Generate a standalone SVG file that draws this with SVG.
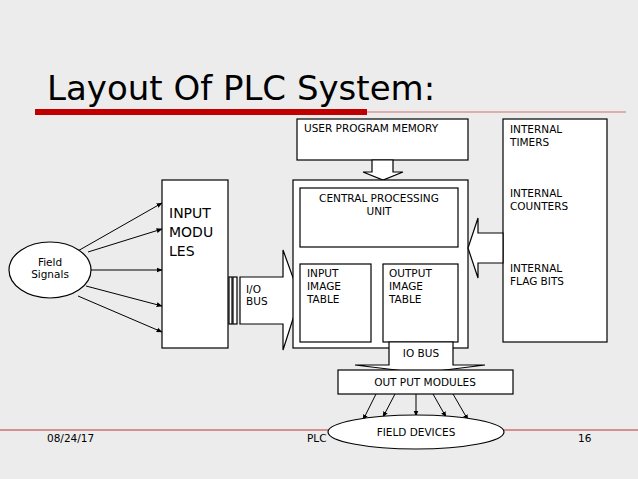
<svg xmlns="http://www.w3.org/2000/svg" width="638" height="479" viewBox="0 0 638 479">
<style>
text{font-family:Verdana,"DejaVu Sans",sans-serif;fill:#000}
.b{fill:#fff;stroke:#000;stroke-width:1.2}
.s{font-size:10.5px}
.l{stroke:#000;stroke-width:1;fill:none}
</style>
<defs><marker id="a" viewBox="0 0 10 10" refX="9" refY="5" markerWidth="6" markerHeight="6" orient="auto"><path d="M0,1 L10,5 L0,9z" fill="#000"/></marker></defs>
<rect width="638" height="479" fill="#ececec"/>
<text x="47" y="100" style="font-size:34px;font-family:'DejaVu Sans',Verdana,sans-serif">Layout Of PLC System:</text>
<line x1="367" y1="112" x2="626" y2="112" stroke="#d99" stroke-width="1.5"/>
<rect x="35" y="109" width="332" height="6" fill="#c00000"/>
<line x1="0" y1="430" x2="638" y2="430" stroke="#b33" stroke-width="1.2"/>
<g id="connectors">
<line class="l" x1="76" y1="252" x2="162" y2="203" marker-end="url(#a)"/>
<line class="l" x1="88" y1="252" x2="162" y2="229" marker-end="url(#a)"/>
<line class="l" x1="91" y1="270" x2="162" y2="270" marker-end="url(#a)"/>
<line class="l" x1="86" y1="286" x2="162" y2="306" marker-end="url(#a)"/>
<line class="l" x1="78" y1="296" x2="162" y2="332" marker-end="url(#a)"/>
<line class="l" x1="328" y1="247" x2="328" y2="264" marker-end="url(#a)"/>
<line class="l" x1="345" y1="268" x2="345" y2="236" marker-end="url(#a)"/>
<line class="l" x1="396" y1="247" x2="396" y2="264" marker-end="url(#a)"/>
<line class="l" x1="438" y1="264" x2="438" y2="228" marker-end="url(#a)"/>
<line class="l" x1="376" y1="394" x2="363" y2="420" marker-end="url(#a)"/>
<line class="l" x1="395" y1="394" x2="383" y2="417" marker-end="url(#a)"/>
<line class="l" x1="416" y1="394" x2="416" y2="416" marker-end="url(#a)"/>
<line class="l" x1="433" y1="394" x2="446" y2="417" marker-end="url(#a)"/>
<line class="l" x1="453" y1="394" x2="468" y2="420" marker-end="url(#a)"/>
</g>
<g id="field-signals"><ellipse class="b" cx="50" cy="270" rx="41" ry="28"/><text class="s" x="50" y="266" text-anchor="middle">Field</text><text class="s" x="50" y="278" text-anchor="middle">Signals</text></g>
<g id="input-modules"><rect class="b" x="162" y="180" width="66" height="168"/><text x="169" y="218" font-size="14">INPUT</text><text x="169" y="237" font-size="14">MODU</text><text x="169" y="256" font-size="14">LES</text></g>
<g id="io-bus-left"><rect class="b" x="229" y="277" width="3" height="47"/><rect class="b" x="233" y="277" width="4" height="47"/><path class="b" d="M240,277 H283 V250 L300,297 L283,350 V324 H240 Z"/><text class="s" x="246" y="293">I/O</text><text class="s" x="246" y="305">BUS</text></g>
<g id="user-program-memory"><rect class="b" x="297" y="119" width="171" height="41"/><text class="s" x="304" y="132">USER PROGRAM MEMORY</text><path class="b" d="M372,160 H393 V172 H403 L383,180 L363,172 H372 Z"/></g>
<g id="cpu"><rect class="b" x="293" y="180" width="175" height="168"/><rect class="b" x="300" y="188" width="158" height="59"/><text class="s" x="379" y="202" text-anchor="middle">CENTRAL PROCESSING</text><text class="s" x="379" y="215" text-anchor="middle">UNIT</text></g>
<g id="input-image-table"><rect class="b" x="300" y="264" width="71" height="78"/><text class="s" x="307" y="277">INPUT</text><text class="s" x="307" y="290">IMAGE</text><text class="s" x="307" y="303">TABLE</text></g>
<g id="output-image-table"><rect class="b" x="383" y="264" width="75" height="78"/><text class="s" x="389" y="277">OUTPUT</text><text class="s" x="389" y="290">IMAGE</text><text class="s" x="389" y="303">TABLE</text></g>
<g id="internal"><rect class="b" x="503" y="119" width="104" height="223"/><text class="s" x="510" y="133">INTERNAL</text><text class="s" x="510" y="146">TIMERS</text><text class="s" x="510" y="197">INTERNAL</text><text class="s" x="510" y="210">COUNTERS</text><text class="s" x="510" y="272">INTERNAL</text><text class="s" x="510" y="285">FLAG BITS</text>
<path class="b" d="M503,233 H478 V218 L468,248 L478,278 V263 H503 Z"/></g>
<g id="io-bus"><path class="b" d="M389,342 H453 V365 H485 L421,373 L355,365 H389 Z"/><text class="s" x="421" y="357" text-anchor="middle">IO BUS</text></g>
<g id="output-modules"><rect class="b" x="338" y="370" width="175" height="24"/><text class="s" x="425" y="386" text-anchor="middle">OUT PUT MODULES</text></g>
<g id="field-devices"><ellipse class="b" cx="416" cy="432" rx="88" ry="17"/><text class="s" x="416" y="436" text-anchor="middle">FIELD DEVICES</text></g>
<text class="s" x="47" y="442">08/24/17</text><text class="s" x="307" y="442">PLC</text><text class="s" x="578" y="442">16</text>
</svg>
